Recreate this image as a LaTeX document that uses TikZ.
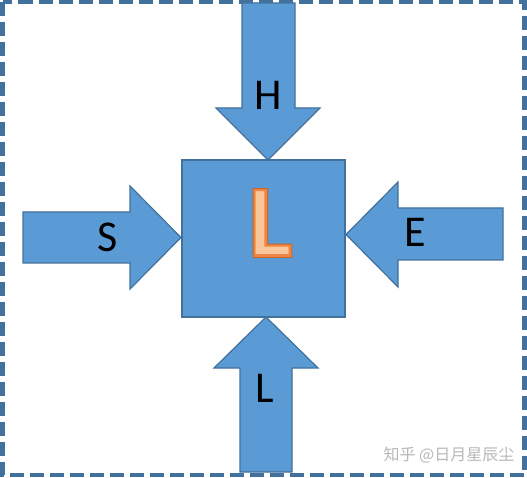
\documentclass[tikz,border=0pt]{standalone}
\usepackage{fontspec}
\setmainfont{Carlito}
\newfontfamily\cjkwm{Noto Sans CJK SC}
\newfontfamily\Lbold[FakeBold=7]{Carlito}
\newfontfamily\Lmid[FakeBold=5]{Carlito}
\definecolor{blockblue}{HTML}{5B9BD5}
\definecolor{edgeblue}{HTML}{41719C}
\definecolor{framedash}{HTML}{41719C}
\definecolor{Ldark}{HTML}{C8642A}
\definecolor{Lorange}{HTML}{EF8542}
\definecolor{Llight}{HTML}{F9C69C}
\tikzset{
  block/.style={fill=blockblue, draw=edgeblue, line width=1.2pt, line join=miter},
  letter/.style={font=\fontsize{44}{44}\selectfont, text=black, inner sep=0pt},
}

\begin{document}
\begin{tikzpicture}[x=1pt, y=-1pt]
\useasboundingbox (0,0) rectangle (527,478);
\fill[white] (0,0) rectangle (527,478);
\draw[framedash, line width=4.5pt, dash pattern=on 14pt off 6pt]
	(2.5,2) rectangle (524.5,475);

% arrows into the box
\draw[block] (242,3) -- (295,3) -- (295,108) -- (320,108)
	-- (268,160) -- (216,108) -- (242,108) -- cycle;
\draw[block] (23,212) -- (130,212) -- (130,186)
	-- (181,237.5) -- (130,289) -- (130,263) -- (23,263) -- cycle;
\draw[block] (503,208) -- (398,208) -- (398,182)
	-- (346,234.5) -- (398,287) -- (398,260) -- (503,260) -- cycle;
\draw[block] (240,472) -- (240,368) -- (214,368)
	-- (266,317) -- (318,368) -- (292,368) -- (292,472) -- cycle;

\draw[block] (182,160) rectangle (345,317);

\node[letter] (h) at (268,95) {H};
\node[letter] (s) at (108,237) {S};
\node[letter] (e) at (415,232) {E};
\node[letter] (l) at (265,388) {L};

% the big L
\node[inner sep=0pt, text=Ldark, font=\Lbold\fontsize{98}{98}\selectfont] (core) at (270,223) {L};
\node[inner sep=0pt, text=Lorange, font=\Lmid\fontsize{98}{98}\selectfont] at (core.center) {L};
\node[inner sep=0pt, text=Llight, font=\fontsize{98}{98}\selectfont] at (core.center) {L};

\node[text=black!28, font=\cjkwm\fontsize{16}{16}\selectfont, inner sep=0pt] (mark) at (449,455) {知乎 @日月星辰尘};
\end{tikzpicture}
\end{document}
